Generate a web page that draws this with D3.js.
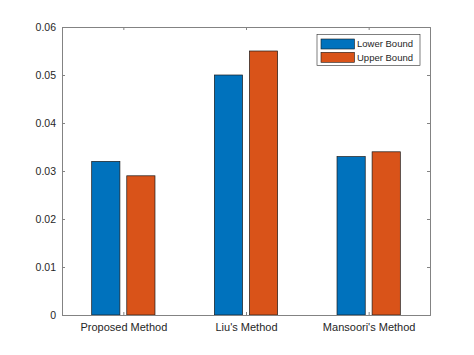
<!DOCTYPE html>
<html><head><meta charset="utf-8">
<script src="https://cdn.jsdelivr.net/npm/d3@7"></script>
<style>body{margin:0;background:#fff}svg{display:block}</style>
</head><body>
<svg id="c" width="474" height="355"></svg>
<script>
const categories = ["Proposed Method", "Liu's Method", "Mansoori's Method"];
const lowerBound = [0.032, 0.050, 0.033];
const upperBound = [0.029, 0.055, 0.034];
const seriesNames = ["Lower Bound", "Upper Bound"];
const seriesColors = ["#0072BD", "#D95319"];
const yTicks = [0, 0.01, 0.02, 0.03, 0.04, 0.05, 0.06];

const svg = d3.select("#c");
const L = 62, R = 430, T = 27, B = 315;
const x = d3.scaleLinear().domain([0.5, 3.5]).range([L, R]);
const y = d3.scaleLinear().domain([0, 0.06]).range([B, T]);
const axisColor = "#838383", textColor = "#262626";

svg.append("rect").attr("x", L).attr("y", T).attr("width", R - L).attr("height", B - T)
  .attr("fill", "#fff");

const series = [lowerBound, upperBound];
const barW = 0.23, off = 0.143;
series.forEach((vals, s) => {
  svg.append("g").selectAll("rect").data(vals).join("rect")
    .attr("x", (d, i) => x(i + 1 + (s === 0 ? -off : off) - barW / 2))
    .attr("width", x(barW) - x(0))
    .attr("y", d => y(d))
    .attr("height", d => y(0) - y(d))
    .attr("fill", seriesColors[s])
    .attr("stroke", "#1a1a1a").attr("stroke-width", 0.7);
});

// axes
const yAxis = d3.axisLeft(y).tickValues(yTicks).tickSize(-3).tickPadding(6)
  .tickFormat(d => d === 0 ? "0" : d3.format(".2f")(d));
const gy = svg.append("g").attr("transform", `translate(${L},0)`).call(yAxis);
const yR = d3.axisRight(y).tickValues(yTicks).tickSize(-3).tickFormat("");
const gyr = svg.append("g").attr("transform", `translate(${R},0)`).call(yR);
const xAxis = d3.axisBottom(x).tickValues([1, 2, 3]).tickSize(-3).tickPadding(8)
  .tickFormat((d) => categories[d - 1]);
const gx = svg.append("g").attr("transform", `translate(0,${B})`).call(xAxis);
const xT = d3.axisTop(x).tickValues([1, 2, 3]).tickSize(-3).tickFormat("");
const gxt = svg.append("g").attr("transform", `translate(0,${T})`).call(xT);
[gy, gyr, gx, gxt].forEach(g => {
  g.select(".domain").attr("stroke", axisColor).attr("stroke-width", 1);
  g.selectAll(".tick line").attr("stroke", axisColor);
  g.selectAll("text").attr("fill", textColor).attr("font-family", "Liberation Sans, Arial, sans-serif");
});
gy.selectAll("text").attr("font-size", 10.5);
gx.selectAll("text").attr("font-size", 11);

// legend
const lg = svg.append("g");
lg.append("rect").attr("x", 317).attr("y", 34.5).attr("width", 103).attr("height", 31)
  .attr("fill", "#fff").attr("stroke", "#2b2b2b").attr("stroke-width", 0.6);
seriesNames.forEach((n, i) => {
  const yy = 39 + i * 13.3;
  lg.append("rect").attr("x", 321).attr("y", yy).attr("width", 33.5).attr("height", 10)
    .attr("fill", seriesColors[i]).attr("stroke", "#1a1a1a").attr("stroke-width", 0.6);
  lg.append("text").attr("x", 357).attr("y", yy + 5).attr("dy", "0.35em")
    .attr("font-family", "Liberation Sans, Arial, sans-serif").attr("font-size", 9.5)
    .attr("fill", textColor).text(n);
});
</script>
</body></html>
